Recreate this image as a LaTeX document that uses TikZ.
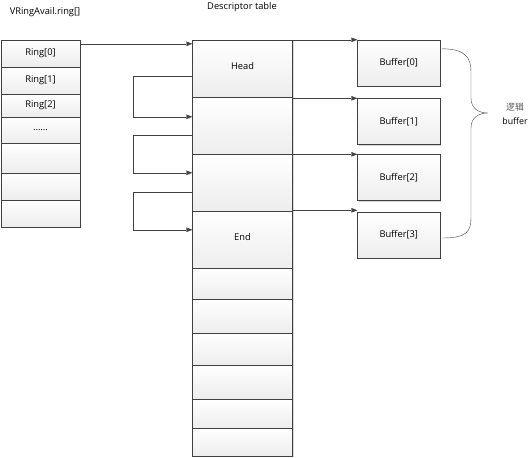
\documentclass[tikz,border=0pt]{standalone}
\usepackage{fontspec}
\setmainfont{Open Sans}
\newfontfamily\cjk{Noto Sans CJK SC}
\usetikzlibrary{arrows.meta,shadows}

\tikzset{
  cell/.style={rectangle,draw=black!75,top color=white,bottom color=black!7,
    drop shadow={shadow xshift=1.2pt,shadow yshift=-1.2pt,fill=black!30,opacity=.5},
    inner sep=0pt},
  link/.style={draw=black!75,-{Triangle[length=6pt,width=4.5pt]}},
}

\begin{document}
\begin{tikzpicture}[x=1pt,y=-1pt,font=\fontsize{9.3}{11}\selectfont]

      \useasboundingbox (0,0) rectangle (531,458);

      % titles
      \node (ringtitle) at (45,12) {VRingAvail.ring[]};
      \node (desctitle) at (242,7.5) {Descriptor table};

      % avail ring
      \begin{scope}[every node/.style={cell,minimum width=79}]
        \node[minimum height=27] (ring0) at (40.5,53.5)  {Ring[0]};
        \node[minimum height=27] (ring1) at (40.5,80.5)  {Ring[1]};
        \node[minimum height=23] (ring2) at (40.5,105.5) {Ring[2]};
        \node[minimum height=26] (ring3) at (40.5,130)   {......};
        \node[minimum height=30] (ring4) at (40.5,158)   {};
        \node[minimum height=27] (ring5) at (40.5,186.5) {};
        \node[minimum height=27] (ring6) at (40.5,213.5) {};
      \end{scope}

      % descriptor table
      \begin{scope}[every node/.style={cell,minimum width=100}]
        \node[minimum height=57,text depth=6pt] (desc1)  at (242.5,68.5)  {Head};
        \node[minimum height=57] (desc2)  at (242.5,125.5) {};
        \node[minimum height=57] (desc3)  at (242.5,182.5) {};
        \node[minimum height=57,text depth=5pt] (desc4)  at (242.5,239.5) {End};
        \node[minimum height=31] (desc5)  at (242.5,283.5) {};
        \node[minimum height=34] (desc6)  at (242.5,316)   {};
        \node[minimum height=32] (desc7)  at (242.5,349)   {};
        \node[minimum height=34] (desc8)  at (242.5,382)   {};
        \node[minimum height=29] (desc9)  at (242.5,413.5) {};
        \node[minimum height=28] (desc10) at (242.5,442)   {};
      \end{scope}

      % buffers
      \begin{scope}[every node/.style={cell,minimum width=82.5,minimum height=46}]
        \node (buf0) at (398.75,63)    {Buffer[0]};
        \node (buf1) at (398.75,121.5) {Buffer[1]};
        \node (buf2) at (398.75,177.5) {Buffer[2]};
        \node (buf3) at (398.75,235)   {Buffer[3]};
      \end{scope}

      % ring -> head, next chain
      \draw[link] ([yshift=-4pt]ring0.north east) -- ([yshift=-4pt]desc1.north west);
      \draw[link] ([yshift=-36pt]desc1.north west) -- ++(-59,0) |- ([yshift=-20pt]desc2.north west);
      \draw[link] ([yshift=-38pt]desc2.north west) -- ++(-59,0) |- ([yshift=-19pt]desc3.north west);
      \draw[link] ([yshift=-38pt]desc3.north west) -- ++(-59,0) |- ([yshift=-19pt]desc4.north west);

      % descriptors -> buffers
      \draw[link] (buf0.north west -| desc1.east) -- (buf0.north west);
      \draw[link] (buf1.north west -| desc2.east) -- (buf1.north west);
      \draw[link] (buf2.north west -| desc3.east) -- (buf2.north west);
      \draw[link] ([yshift=1.5pt]buf3.north west -| desc4.east) -- ([yshift=1.5pt]buf3.north west);

      % brace
      \coordinate (tip) at (488,113);
      \draw[black!75] ([xshift=2pt,yshift=-9pt]buf0.north east)
        .. controls (466,49) and (471,58) .. (471,72) -- (471,98)
        .. controls (471,108) and (478,113) .. (tip)
        .. controls (478,113) and (471,118) .. (471,128) -- (471,218)
        .. controls (471,232) and (466,238) .. ([xshift=2pt,yshift=-3pt]buf3.east);
      \node[align=center,inner sep=0pt,font=\fontsize{8.8}{13.5}\selectfont] (logic) at (515,114) {{\cjk\color{black!65}逻辑}\\buffer};

    \end{tikzpicture}
\end{document}
